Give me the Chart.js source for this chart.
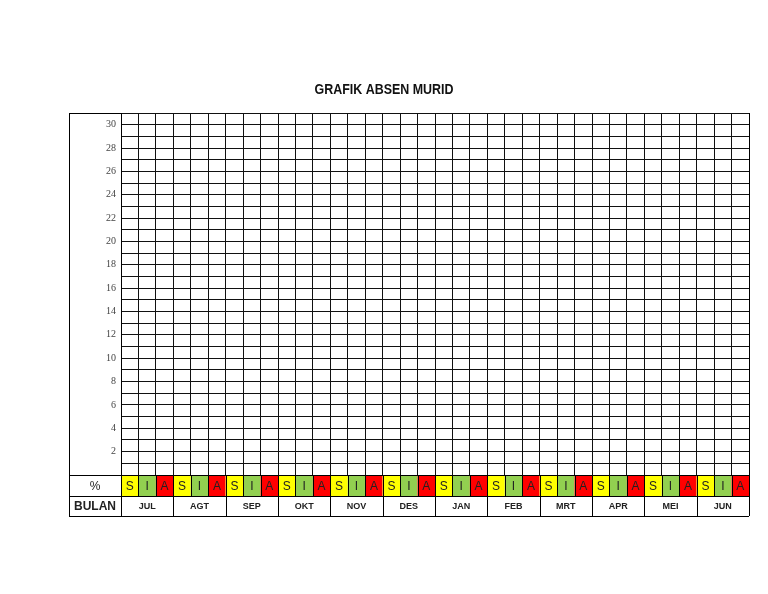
<!DOCTYPE html>
<html lang="id">
<head>
<meta charset="UTF-8">
<title>Grafik Absen Murid</title>
<script src="https://cdn.jsdelivr.net/npm/chart.js"></script>
<style>
  html, body { margin: 0; padding: 0; background: #fff; }
  #wrap { width: 768px; height: 594px; }
</style>
</head>
<body>
<div id="wrap"><canvas id="absenChart"></canvas></div>
<script>
// data
const months = ['JUL', 'AGT', 'SEP', 'OKT', 'NOV', 'DES', 'JAN', 'FEB', 'MRT', 'APR', 'MEI', 'JUN'];
const codes = ['S', 'I', 'A'];
// S = sakit, I = izin, A = alpa (grafik masih kosong)
const sakit = [0, 0, 0, 0, 0, 0, 0, 0, 0, 0, 0, 0];
const izin  = [0, 0, 0, 0, 0, 0, 0, 0, 0, 0, 0, 0];
const alpa  = [0, 0, 0, 0, 0, 0, 0, 0, 0, 0, 0, 0];
const yMax = 31;
const title = 'GRAFIK ABSEN MURID';

const codeColors = { S: '#ffff00', I: '#92d050', A: '#ff0000' };

let labels = [];
let values = [];
months.forEach((m, i) => {
    labels.push(m + ' S', m + ' I', m + ' A');
    values.push(sakit[i], izin[i], alpa[i]);
});
let barColors = labels.map(l => codeColors[l.slice(-1)]);

// judul (huruf sempit) + baris % dan BULAN di bawah grafik
const tableRows = {
    id: 'tableRows',
    afterDraw(chart) {
        const ctx = chart.ctx;
        const ca = chart.chartArea;
        const xs = chart.scales.x;
        const left = 69;
        const w = (ca.right - ca.left) / labels.length;
        const pctTop = ca.bottom, pctBot = ca.bottom + 21, bulBot = ca.bottom + 41;
        ctx.save();
        ctx.textAlign = 'center';
        ctx.textBaseline = 'middle';

        ctx.save();
        ctx.translate(chart.width / 2, 90);
        ctx.scale(0.83, 1);
        ctx.fillStyle = '#111';
        ctx.font = 'bold 15px "Liberation Sans", Arial, sans-serif';
        ctx.fillText(title, 0, 0);
        ctx.restore();

        labels.forEach((l, i) => {
            const cx = xs.getPixelForValue(i);
            const x0 = cx - w / 2;
            ctx.fillStyle = barColors[i];
            ctx.fillRect(x0, pctTop, w, pctBot - pctTop);
            ctx.fillStyle = '#222';
            ctx.font = '12px "Liberation Sans", Arial, sans-serif';
            ctx.fillText(codes[i % 3], cx, (pctTop + pctBot) / 2 + 1);
        });
        ctx.strokeStyle = '#000';
        ctx.lineWidth = 1;
        ctx.beginPath();
        for (let i = 0; i <= labels.length; i++) {
            const x = Math.round(ca.left + i * w) + 0.5;
            ctx.moveTo(x, pctTop);
            ctx.lineTo(x, pctBot);
        }
        for (let m = 0; m <= months.length; m++) {
            const x = Math.round(ca.left + m * 3 * w) + 0.5;
            ctx.moveTo(x, pctBot);
            ctx.lineTo(x, bulBot);
        }
        [pctTop, pctBot, bulBot].forEach(y => {
            ctx.moveTo(left, Math.round(y) + 0.5);
            ctx.lineTo(ca.right, Math.round(y) + 0.5);
        });
        ctx.moveTo(left + 0.5, ca.top);
        ctx.lineTo(left + 0.5, bulBot);
        ctx.moveTo(left, Math.round(ca.top) + 0.5);
        ctx.lineTo(ca.left, Math.round(ca.top) + 0.5);
        ctx.moveTo(Math.round(ca.left) + 0.5, ca.top);
        ctx.lineTo(Math.round(ca.left) + 0.5, bulBot);
        ctx.moveTo(Math.round(ca.right) + 0.5, ca.top);
        ctx.lineTo(Math.round(ca.right) + 0.5, bulBot);
        ctx.stroke();

        ctx.fillStyle = '#222';
        ctx.font = 'bold 9px "Liberation Sans", Arial, sans-serif';
        months.forEach((m, i) => {
            ctx.fillText(m, ca.left + (i * 3 + 1.5) * w, (pctBot + bulBot) / 2 + 1);
        });
        ctx.font = '12px "Liberation Sans", Arial, sans-serif';
        ctx.fillText('%', (left + ca.left) / 2, (pctTop + pctBot) / 2 + 1);
        ctx.font = 'bold 12px "Liberation Sans", Arial, sans-serif';
        ctx.fillText('BULAN', (left + ca.left) / 2, (pctBot + bulBot) / 2 + 1);
        ctx.restore();
    }
};

new Chart(document.getElementById('absenChart').getContext('2d'), {
    type: 'bar',
    data: {
        labels: labels,
        datasets: [{
            label: 'Absen',
            data: values,
            backgroundColor: barColors,
            borderWidth: 0
        }]
    },
    options: {
        responsive: true,
        maintainAspectRatio: false,
        animation: false,
        layout: { padding: { left: 69, right: 19, top: 113, bottom: 119 } },
        plugins: {
            legend: { display: false },
            tooltip: { enabled: false },
            title: { display: false }
        },
        scales: {
            x: {
                grid: { color: '#111', lineWidth: 1, drawTicks: false, offset: true },
                border: { display: true, color: '#111' },
                ticks: { display: false },
                afterFit(scale) { scale.height = 0; }
            },
            y: {
                min: 0,
                max: yMax,
                grid: { color: '#111', lineWidth: 1, drawTicks: false },
                border: { display: true, color: '#111' },
                ticks: {
                    stepSize: 1,
                    autoSkip: false,
                    padding: 5,
                    color: '#444',
                    font: { family: '"Liberation Serif", "Times New Roman", serif', size: 10 },
                    callback: v => (v > 0 && v <= 30 && v % 2 === 0) ? v : ''
                },
                afterFit(scale) { scale.width = 52; }
            }
        }
    },
    plugins: [tableRows]
});
</script>
</body>
</html>
